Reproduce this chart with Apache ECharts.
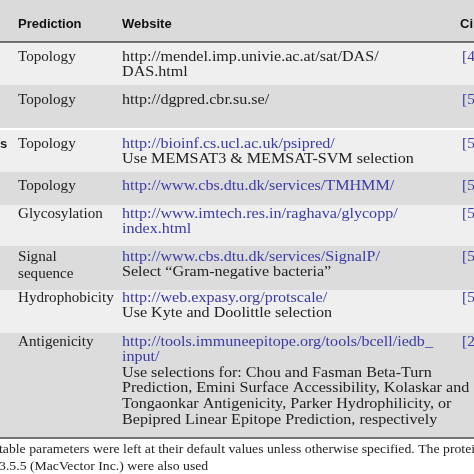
<!DOCTYPE html><html><head><meta charset="utf-8"><script src="https://cdn.jsdelivr.net/npm/echarts@6/dist/echarts.min.js"></script>
<style>html,body{margin:0;padding:0;background:#fff}#c{width:474px;height:474px}</style></head><body><div id="c"></div><script>
const headers=["Prediction","Website","Ci"];
const predictions=["Topology","Topology","Topology","Topology","Glycosylation","Signal|sequence","Hydrophobicity","Antigenicity"];
const websites=[
[["http://mendel.imp.univie.ac.at/sat/DAS/",0],["DAS.html",0]],
[["http://dgpred.cbr.su.se/",0]],
[["http://bioinf.cs.ucl.ac.uk/psipred/",1],["Use MEMSAT3 & MEMSAT-SVM selection",0]],
[["http://www.cbs.dtu.dk/services/TMHMM/",1]],
[["http://www.imtech.res.in/raghava/glycopp/",1],["index.html",1]],
[["http://www.cbs.dtu.dk/services/SignalP/",1],["Select \u201cGram-negative bacteria\u201d",0]],
[["http://web.expasy.org/protscale/",1],["Use Kyte and Doolittle selection",0]],
[["http://tools.immuneepitope.org/tools/bcell/iedb_",1],["input/",1],["Use selections for: Chou and Fasman Beta-Turn",0],["Prediction, Emini Surface Accessibility, Kolaskar and",0],["Tongaonkar Antigenicity, Parker Hydrophilicity, or",0],["Bepipred Linear Epitope Prediction, respectively",0]]];
const citations=["[4","[5","[5","[5","[5","[5","[5","[2"];
const rowBands=[[43,85],[85,128],[130,172],[172,205],[205,246],[246,290],[290,333],[333,437]];
const firstLineY=[57,100,144,186,214,257,298,342];
const footnote=["table parameters were left at their default values unless otherwise specified. The protein an","3.5.5 (MacVector Inc.) were also used"];
const g=[];
g.push({type:'rect',shape:{x:0,y:0,width:474,height:42},style:{fill:'#dadada'}});
g.push({type:'line',shape:{x1:0,y1:42,x2:474,y2:42},style:{stroke:'#444',lineWidth:1.5}});
const hx=[18,122,460];
headers.forEach((h,i)=>g.push({type:'text',x:hx[i],y:24,style:{text:h,font:'bold 13px "Liberation Sans Narrow","Liberation Sans",sans-serif',fill:'#111',verticalAlign:'middle'}}));
const serif='14px "Liberation Serif","DejaVu Serif",serif';
function t(x,y,text,fill,sx,font){return {type:'text',x:x,y:y,scaleX:sx,style:{text:text,font:font||serif,fill:fill,verticalAlign:'middle'}};}
rowBands.forEach((b,i)=>{
 g.push({type:'rect',shape:{x:0,y:b[0],width:474,height:b[1]-b[0]},style:{fill:i%2?'#dcdcdc':'#efefef'}});
 const y0=firstLineY[i];
 predictions[i].split('|').forEach((s,k)=>g.push(t(18,y0+k*17,s,'#222',1.08)));
 websites[i].forEach((w,k)=>g.push(t(122,y0+k*15.6,w[0],w[1]?'#3a3aa8':'#222',1.15)));
 g.push(t(462,y0,citations[i],'#3a3aa8',1.1));
});
g.push({type:'rect',shape:{x:0,y:128,width:474,height:2},style:{fill:'#fff'}});
g.push({type:'text',x:0,y:144,style:{text:'s',font:'bold 13px sans-serif',fill:'#222',verticalAlign:'middle'}});
g.push({type:'line',shape:{x1:0,y1:438,x2:474,y2:438},style:{stroke:'#444',lineWidth:1.5}});
footnote.forEach((s,k)=>g.push(t(-1,450+k*17,s,'#222',1.1,'12.5px "Liberation Serif",serif')));
const ch=echarts.init(document.getElementById('c'));
ch.setOption({animation:false,graphic:g});
</script></body></html>
